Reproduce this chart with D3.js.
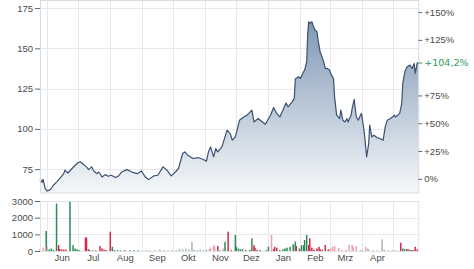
<!DOCTYPE html>
<html>
<head>
<meta charset="utf-8">
<script src="https://cdn.jsdelivr.net/npm/d3@7"></script>
<style>
  body { margin: 0; background: #fff; }
  svg { display: block; font-family: "DejaVu Sans", Verdana, sans-serif; }
</style>
</head>
<body>
<svg id="chart" width="474" height="269"></svg>
<script>
// price series (close)
const dates = [
  "2023-05-25","2023-05-27","2023-05-28","2023-05-30","2023-06-01","2023-06-04","2023-06-07","2023-06-10",
  "2023-06-13","2023-06-17","2023-06-18","2023-06-21","2023-06-25","2023-06-28","2023-07-01","2023-07-03",
  "2023-07-05","2023-07-09","2023-07-11","2023-07-14","2023-07-16","2023-07-19","2023-07-21","2023-07-24",
  "2023-07-27","2023-07-30","2023-08-02","2023-08-06","2023-08-09","2023-08-12","2023-08-17","2023-08-22",
  "2023-08-27","2023-08-31","2023-09-04","2023-09-07","2023-09-12","2023-09-16","2023-09-21","2023-09-25",
  "2023-09-29","2023-10-03","2023-10-06","2023-10-10","2023-10-12","2023-10-15","2023-10-20","2023-10-25",
  "2023-10-30","2023-11-02","2023-11-04","2023-11-06","2023-11-09","2023-11-11","2023-11-13","2023-11-17",
  "2023-11-22","2023-11-25","2023-11-27","2023-11-30","2023-12-02","2023-12-04","2023-12-08","2023-12-11",
  "2023-12-13","2023-12-16","2023-12-18","2023-12-22","2023-12-29","2024-01-03","2024-01-06","2024-01-09",
  "2024-01-12","2024-01-15","2024-01-18","2024-01-20","2024-01-24","2024-01-26","2024-01-27","2024-01-30",
  "2024-02-01","2024-02-04","2024-02-05","2024-02-07","2024-02-08","2024-02-09","2024-02-10","2024-02-12",
  "2024-02-13","2024-02-15","2024-02-17","2024-02-18","2024-02-20","2024-02-23","2024-02-25","2024-02-27",
  "2024-02-29","2024-03-02","2024-03-04","2024-03-05","2024-03-07","2024-03-10","2024-03-11","2024-03-13",
  "2024-03-15","2024-03-17","2024-03-18","2024-03-21","2024-03-22","2024-03-24","2024-03-26","2024-03-28",
  "2024-03-30","2024-03-31","2024-04-02","2024-04-03","2024-04-05","2024-04-07","2024-04-08","2024-04-10",
  "2024-04-12","2024-04-15","2024-04-18","2024-04-21","2024-04-23","2024-04-25","2024-04-28","2024-04-30",
  "2024-05-02","2024-05-03","2024-05-07","2024-05-09","2024-05-10","2024-05-12","2024-05-14","2024-05-17",
  "2024-05-19","2024-05-21","2024-05-22","2024-05-24","2024-05-25"
];
const prices = [
  69.0, 66.8, 68.7, 62.9, 61.4, 62.3, 65.0, 67.0,
  69.1, 72.2, 74.3, 72.6, 75.4, 77.4, 79.1, 79.5,
  78.5, 76.4, 74.7, 76.4, 73.9, 72.2, 73.2, 70.1,
  71.6, 70.6, 71.2, 69.8, 70.8, 73.2, 74.7, 73.2,
  72.2, 73.9, 70.1, 68.5, 70.8, 71.2, 76.4, 74.3,
  70.8, 73.2, 75.4, 84.7, 85.7, 83.6, 81.6, 82.2,
  81.0, 79.9, 85.7, 88.8, 82.6, 87.8, 85.7, 88.8,
  99.2, 97.1, 93.0, 95.0, 100.2, 105.4, 107.4, 108.5,
  109.6, 111.6, 104.3, 106.4, 102.9, 108.5, 113.3, 109.6,
  107.4, 111.6, 116.1, 113.7, 116.8, 118.9, 130.9, 132.3,
  131.3, 135.4, 136.5, 141.5, 159.3, 166.5, 165.5, 166.5,
  164.5, 161.4, 160.3, 155.1, 147.9, 142.7, 137.5, 137.5,
  136.5, 133.4, 131.3, 119.9, 108.5, 106.4, 111.6, 105.4,
  104.3, 106.4, 104.3, 108.5, 112.7, 118.3, 107.4, 105.4,
  108.5, 109.6, 101.2, 96.1, 82.6, 90.9, 102.3, 95.0,
  96.1, 94.6, 94.0, 93.0, 101.2, 105.4, 106.4, 107.4,
  108.5, 107.4, 109.6, 115.8, 128.2, 135.4, 138.5, 139.6,
  137.5, 140.6, 134.4, 141.0, 140.9
];

// volume series
const volDates = [
  "2023-05-25","2023-05-28","2023-05-31","2023-06-01","2023-06-03","2023-06-05","2023-06-07","2023-06-10",
  "2023-06-12","2023-06-13","2023-06-15","2023-06-17","2023-06-19","2023-06-23","2023-06-26","2023-06-28",
  "2023-06-30","2023-07-02","2023-07-08","2023-07-09","2023-07-11","2023-07-12","2023-07-15","2023-07-18",
  "2023-07-22","2023-07-24","2023-07-26","2023-07-28","2023-08-01","2023-08-03","2023-08-05","2023-08-08",
  "2023-08-11","2023-08-15","2023-08-20","2023-08-24","2023-08-28","2023-09-01","2023-09-05","2023-09-08",
  "2023-09-13","2023-09-18","2023-09-22","2023-09-26","2023-09-30","2023-10-04","2023-10-07","2023-10-10",
  "2023-10-13","2023-10-16","2023-10-19","2023-10-21","2023-10-24","2023-10-27","2023-10-30","2023-11-02",
  "2023-11-05","2023-11-06","2023-11-09","2023-11-10","2023-11-13","2023-11-15","2023-11-18","2023-11-20",
  "2023-11-23","2023-11-26","2023-11-30","2023-12-01","2023-12-03","2023-12-05","2023-12-07","2023-12-10",
  "2023-12-14","2023-12-16","2023-12-18","2023-12-19","2023-12-21","2023-12-24","2023-12-30","2024-01-01",
  "2024-01-04","2024-01-06","2024-01-07","2024-01-09","2024-01-12","2024-01-15","2024-01-17","2024-01-19",
  "2024-01-22","2024-01-25","2024-01-27","2024-01-28","2024-01-31","2024-02-02","2024-02-04","2024-02-05",
  "2024-02-07","2024-02-09","2024-02-10","2024-02-12","2024-02-14","2024-02-17","2024-02-19","2024-02-20",
  "2024-02-22","2024-02-25","2024-02-28","2024-03-01","2024-03-03","2024-03-05","2024-03-09","2024-03-12",
  "2024-03-16","2024-03-19","2024-03-22","2024-03-23","2024-03-26","2024-03-30","2024-04-01","2024-04-04",
  "2024-04-06","2024-04-07","2024-04-11","2024-04-15","2024-04-20","2024-04-22","2024-04-26","2024-04-30",
  "2024-05-03","2024-05-08","2024-05-10","2024-05-12","2024-05-14","2024-05-16","2024-05-18","2024-05-20",
  "2024-05-22","2024-05-24"
];
const volValues = [
  120, 200, 1200, 250, 100, 150, 60, 2850,
  350, 120, 100, 80, 90, 2950, 350, 150,
  100, 50, 820, 800, 100, 60, 40, 40,
  300, 150, 80, 60, 1160, 250, 60, 50,
  40, 50, 40, 50, 40, 30, 40, 40,
  50, 100, 50, 40, 50, 50, 120, 100,
  150, 100, 550, 80, 60, 100, 60, 100,
  120, 200, 350, 250, 300, 80, 150, 550,
  1160, 50, 960, 250, 150, 100, 100, 60,
  60, 760, 350, 200, 80, 60, 60, 260,
  960, 100, 250, 200, 60, 100, 150, 200,
  250, 400, 560, 300, 150, 350, 350, 660,
  960, 360, 760, 200, 80, 150, 250, 100,
  80, 360, 100, 150, 250, 300, 200, 60,
  80, 360, 360, 250, 300, 60, 60, 250,
  150, 100, 40, 40, 700, 80, 40, 50,
  60, 500, 150, 100, 120, 100, 60, 60,
  250, 100
];
// g = up, r = down, gl / rl = pale variants
const volTypes = [
  "rl","rl","g","rl","g","g","g","g",
  "r","r","r","r","r","g","g","g",
  "g","g","r","r","r","g","r","g",
  "r","r","r","r","r","g","g","g",
  "g","g","g","g","g","gl","gl","gl",
  "gl","gl","gl","gl","gl","gl","gl","gl",
  "gl","gl","gl","gl","gl","gl","gl","gl",
  "rl","rl","rl","rl","r","gl","gl","g",
  "r","r","g","g","g","g","g","g",
  "r","g","r","r","r","g","g","g",
  "rl","r","r","r","g","g","g","g",
  "g","g","g","r","g","g","g","g",
  "g","r","r","r","r","r","r","r",
  "r","r","r","rl","rl","rl","rl","rl",
  "rl","rl","rl","rl","rl","rl","rl","rl",
  "gl","gl","gl","gl","gl","gl","gl","gl",
  "gl","r","g","g","r","g","r","r",
  "r","r"
];

const monthLabels = ["Jun", "Jul", "Aug", "Sep", "Okt", "Nov", "Dez", "Jan", "Feb", "Mrz", "Apr"];
const priceTicks = [75, 100, 125, 150, 175];
const percentTicks = [0, 25, 50, 75, 125, 150];
const volumeTicks = [0, 1000, 2000, 3000];

const colors = { g: "#2f8a58", r: "#d4294b", gl: "#a9bcae", rl: "#e9a1ad" };

const svg = d3.select("#chart");
const left = 40, right = 418.3;
const pTop = 0.5, pBottom = 193;
const vTop = 201, vBottom = 251;

const start = new Date("2023-05-25"), end = new Date("2024-05-25");
const x = d3.scaleUtc().domain([start, end]).range([left, right]);
const y = d3.scaleLinear().domain([60.2, 180]).range([pBottom, 0]);
const yv = d3.scaleLinear().domain([0, 3000]).range([vBottom, vTop]);

const base = prices[0];
const yPct = d3.scaleLinear()
  .domain([(60.2 / base - 1) * 100, (180 / base - 1) * 100])
  .range([pBottom, 0]);

const data = dates.map((d, i) => ({ date: new Date(d), price: prices[i] }));
const vols = volDates.map((d, i) => ({ date: new Date(d), v: volValues[i], t: volTypes[i] }));

// gradient for the area
const grad = svg.append("defs").append("linearGradient")
  .attr("id", "fillGrad")
  .attr("gradientUnits", "userSpaceOnUse")
  .attr("x1", 0).attr("y1", 0).attr("x2", 0).attr("y2", pBottom);
grad.append("stop").attr("offset", 0.08).attr("stop-color", "#7c94b3");
grad.append("stop").attr("offset", 1).attr("stop-color", "#f6f8fa");

// gridlines
const months = d3.utcMonth.range(d3.utcMonth.ceil(start), end);
const grid = svg.append("g").attr("stroke", "#e6e8eb").attr("shape-rendering", "crispEdges");
grid.selectAll(".vp").data(months).join("line")
  .attr("x1", d => Math.round(x(d)) + 0.5).attr("x2", d => Math.round(x(d)) + 0.5)
  .attr("y1", pTop).attr("y2", pBottom);
grid.selectAll(".vv").data(months).join("line")
  .attr("x1", d => Math.round(x(d)) + 0.5).attr("x2", d => Math.round(x(d)) + 0.5)
  .attr("y1", vTop).attr("y2", vBottom);
grid.selectAll(".hp").data(priceTicks).join("line")
  .attr("x1", left).attr("x2", right)
  .attr("y1", d => Math.round(y(d)) + 0.5).attr("y2", d => Math.round(y(d)) + 0.5);
grid.selectAll(".hv").data([1000, 2000]).join("line")
  .attr("x1", left).attr("x2", right)
  .attr("y1", d => Math.round(yv(d)) + 0.5).attr("y2", d => Math.round(yv(d)) + 0.5);

// price area + line
svg.append("path").datum(data)
  .attr("fill", "url(#fillGrad)")
  .attr("d", d3.area().x(d => x(d.date)).y0(pBottom).y1(d => y(d.price)));
svg.append("path").datum(data)
  .attr("fill", "none")
  .attr("stroke", "#3c5070")
  .attr("stroke-width", 1.2)
  .attr("stroke-linejoin", "round")
  .attr("d", d3.line().x(d => x(d.date)).y(d => y(d.price)));

// volume bars
svg.append("g").selectAll("rect").data(vols).join("rect")
  .attr("x", d => x(d.date) - 0.75)
  .attr("width", 1.5)
  .attr("y", d => yv(d.v))
  .attr("height", d => vBottom - yv(d.v))
  .attr("fill", d => colors[d.t]);

// frames
svg.append("rect").attr("x", left + 0.5).attr("y", pTop).attr("width", right - left).attr("height", pBottom - pTop)
  .attr("fill", "none").attr("stroke", "#d6dbe1");
svg.append("rect").attr("x", left + 0.5).attr("y", vTop + 0.5).attr("width", right - left).attr("height", vBottom - vTop)
  .attr("fill", "none").attr("stroke", "#dfe2e6");

function styleAxis(g) {
  g.select(".domain").remove();
  g.selectAll(".tick line").attr("stroke", "#666");
  g.selectAll("text").attr("fill", "#4a4a4a").attr("font-size", "9.5px");
}

// left price axis
svg.append("g").attr("transform", `translate(${left},0)`)
  .call(d3.axisLeft(y).tickValues(priceTicks).tickSize(5).tickPadding(2))
  .call(styleAxis);

// right percent axis
svg.append("g").attr("transform", `translate(${right},0)`)
  .call(d3.axisRight(yPct).tickValues(percentTicks).tickSize(4).tickPadding(2)
    .tickFormat(p => (p > 0 ? "+" : "") + p + "%"))
  .call(styleAxis);

// current value label
const last = prices[prices.length - 1];
const pctFmt = d3.formatLocale({ decimal: ",", thousands: ".", grouping: [3], currency: ["", "€"] }).format(".1f");
const cur = svg.append("g").attr("transform", `translate(${right},${y(last)})`);
cur.append("line").attr("x1", 0).attr("x2", 4).attr("stroke", "#2e9a5c");
cur.append("text").attr("x", 6).attr("dy", "0.32em")
  .attr("fill", "#2e9a5c").attr("font-size", "9.5px")
  .text("+" + pctFmt((last / base - 1) * 100) + "%");

// left volume axis
svg.append("g").attr("transform", `translate(${left},0)`)
  .call(d3.axisLeft(yv).tickValues(volumeTicks).tickSize(5).tickPadding(2).tickFormat(d3.format("d")))
  .call(styleAxis);

// month labels
const labelDates = monthLabels.map((m, i) => d3.utcDay.offset(d3.utcMonth.offset(new Date("2023-06-01"), i), 14));
svg.append("g").attr("transform", `translate(0,${vBottom})`)
  .call(d3.axisBottom(x).tickValues(labelDates).tickSize(0).tickPadding(3)
    .tickFormat((d, i) => monthLabels[i]))
  .call(styleAxis);
</script>
</body>
</html>
